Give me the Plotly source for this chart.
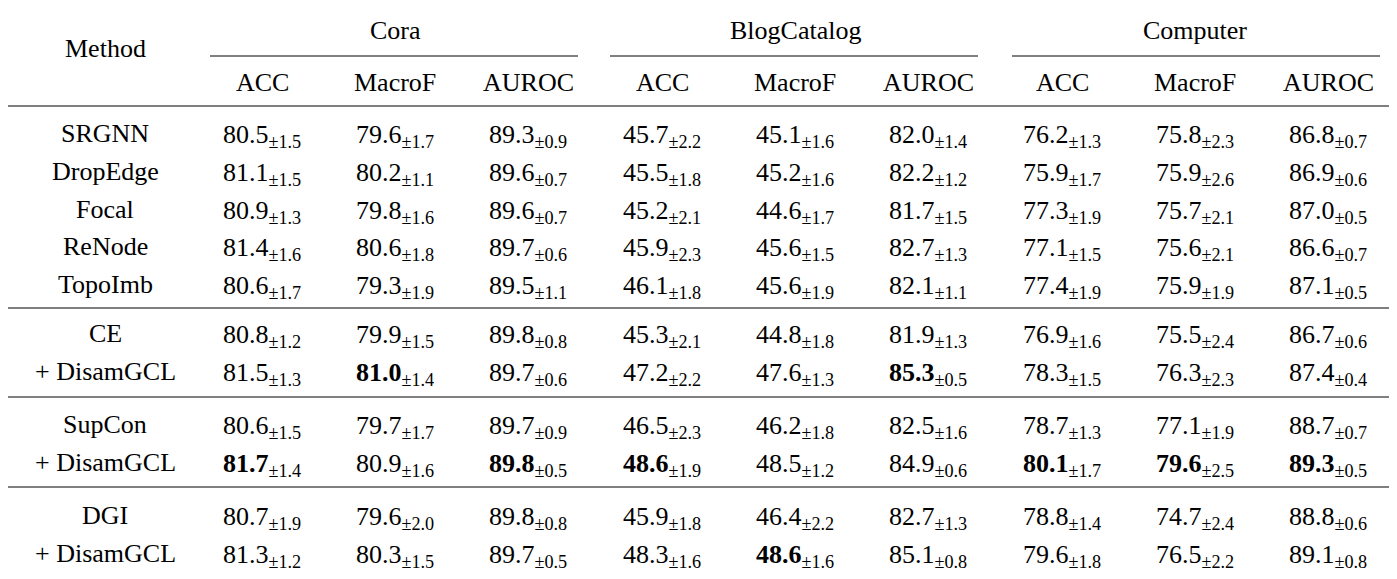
import plotly.graph_objects as go

methods = ["SRGNN", "DropEdge", "Focal", "ReNode", "TopoImb", "CE", "+ DisamGCL",
           "SupCon", "+ DisamGCL", "DGI", "+ DisamGCL"]
datasets = ["Cora", "BlogCatalog", "Computer"]
metrics = ["ACC", "MacroF", "AUROC"]
means = [
    [80.5, 79.6, 89.3, 45.7, 45.1, 82.0, 76.2, 75.8, 86.8],
    [81.1, 80.2, 89.6, 45.5, 45.2, 82.2, 75.9, 75.9, 86.9],
    [80.9, 79.8, 89.6, 45.2, 44.6, 81.7, 77.3, 75.7, 87.0],
    [81.4, 80.6, 89.7, 45.9, 45.6, 82.7, 77.1, 75.6, 86.6],
    [80.6, 79.3, 89.5, 46.1, 45.6, 82.1, 77.4, 75.9, 87.1],
    [80.8, 79.9, 89.8, 45.3, 44.8, 81.9, 76.9, 75.5, 86.7],
    [81.5, 81.0, 89.7, 47.2, 47.6, 85.3, 78.3, 76.3, 87.4],
    [80.6, 79.7, 89.7, 46.5, 46.2, 82.5, 78.7, 77.1, 88.7],
    [81.7, 80.9, 89.8, 48.6, 48.5, 84.9, 80.1, 79.6, 89.3],
    [80.7, 79.6, 89.8, 45.9, 46.4, 82.7, 78.8, 74.7, 88.8],
    [81.3, 80.3, 89.7, 48.3, 48.6, 85.1, 79.6, 76.5, 89.1],
]
stds = [
    [1.5, 1.7, 0.9, 2.2, 1.6, 1.4, 1.3, 2.3, 0.7],
    [1.5, 1.1, 0.7, 1.8, 1.6, 1.2, 1.7, 2.6, 0.6],
    [1.3, 1.6, 0.7, 2.1, 1.7, 1.5, 1.9, 2.1, 0.5],
    [1.6, 1.8, 0.6, 2.3, 1.5, 1.3, 1.5, 2.1, 0.7],
    [1.7, 1.9, 1.1, 1.8, 1.9, 1.1, 1.9, 1.9, 0.5],
    [1.2, 1.5, 0.8, 2.1, 1.8, 1.3, 1.6, 2.4, 0.6],
    [1.3, 1.4, 0.6, 2.2, 1.3, 0.5, 1.5, 2.3, 0.4],
    [1.5, 1.7, 0.9, 2.3, 1.8, 1.6, 1.3, 1.9, 0.7],
    [1.4, 1.6, 0.5, 1.9, 1.2, 0.6, 1.7, 2.5, 0.5],
    [1.9, 2.0, 0.8, 1.8, 2.2, 1.3, 1.4, 2.4, 0.6],
    [1.2, 1.5, 0.5, 1.6, 1.6, 0.8, 1.8, 2.2, 0.8],
]
bold = {(6, 1), (6, 5), (8, 0), (8, 2), (8, 3), (8, 6), (8, 7), (8, 8), (10, 4)}

# layout geometry (page pixels)
col_x = [262, 395, 528, 662, 795, 928, 1062, 1195, 1328]
group_x = [395, 795, 1195]
group_span = [(210, 578), (610, 978), (1012, 1380)]
row_y = [133, 171, 209, 246, 284, 333, 371, 424, 462, 515, 553]
method_x = 105

FONT = "Liberation Serif"
SIZE = 26
fig = go.Figure()
ann = []
def add(x, y, t, size=SIZE):
    ann.append(dict(x=x, y=y, text=t, showarrow=False, xref="x", yref="y",
                    font=dict(family=FONT, size=size, color="black"),
                    xanchor="center", yanchor="middle"))

add(method_x, 48, "Method")
for gx, d in zip(group_x, datasets):
    add(gx, 30, d)
for i, x in enumerate(col_x):
    add(x, 82, metrics[i % 3])
for r, (m, y) in enumerate(zip(methods, row_y)):
    add(method_x, y, m)
    for c, x in enumerate(col_x):
        v = f"{means[r][c]:.1f}"
        if (r, c) in bold:
            v = f"<b>{v}</b>"
        add(x, y + 3, f"{v}<sub>±{stds[r][c]:.1f}</sub>")

shapes = []
def hline(x0, x1, y, w):
    shapes.append(dict(type="line", xref="x", yref="y", x0=x0, x1=x1, y0=y, y1=y,
                       line=dict(color="black", width=w)))
hline(5, 1392, 5, 2.5)
for a, b in group_span:
    hline(a, b, 56, 1)
hline(5, 1392, 106, 1)
hline(5, 1392, 308, 1)
hline(5, 1392, 397, 1)
hline(5, 1392, 487, 1)
hline(5, 1392, 576, 2.5)

# page has an 8px body margin: map page pixels onto the axes accordingly
fig.update_layout(width=1381, height=563, margin=dict(l=0, r=0, t=0, b=0),
                  plot_bgcolor="white", paper_bgcolor="white",
                  annotations=ann, shapes=shapes,
                  xaxis=dict(range=[8, 1389], visible=False, fixedrange=True),
                  yaxis=dict(range=[571, 8], visible=False, fixedrange=True),
                  showlegend=False)
fig.write_html("out.html", config={"displayModeBar": False})
